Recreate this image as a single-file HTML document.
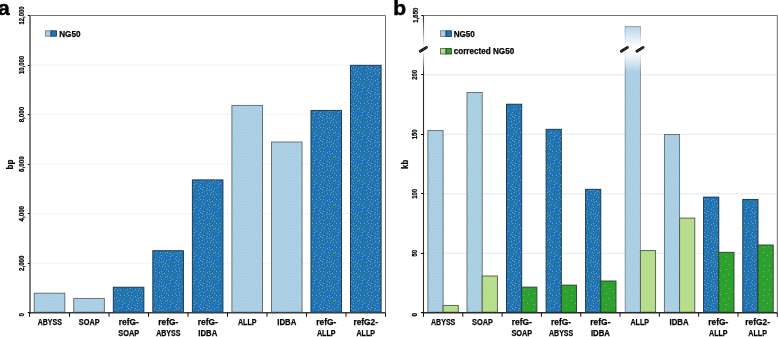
<!DOCTYPE html>
<html><head><meta charset="utf-8"><title>NG50 chart</title>
<style>html,body{margin:0;padding:0;background:#fff;}body{width:778px;height:337px;overflow:hidden;font-family:"Liberation Sans",sans-serif;}</style>
</head><body><svg width="778" height="337" viewBox="0 0 778 337" style="display:block;will-change:transform" font-family='"Liberation Sans", sans-serif' fill="#000"><defs><pattern id="pdb" width="24" height="24" patternUnits="userSpaceOnUse"><rect width="24" height="24" fill="#1f74b9"/><rect x="10" y="10" width="1" height="1" fill="#909ca4"/><rect x="8" y="20" width="1" height="1" fill="#909ca4"/><rect x="8" y="16" width="1" height="1" fill="#909ca4"/><rect x="16" y="12" width="1" height="1" fill="#909ca4"/><rect x="0" y="7" width="1" height="1" fill="#909ca4"/><rect x="9" y="13" width="1" height="1" fill="#909ca4"/><rect x="8" y="7" width="1" height="1" fill="#909ca4"/><rect x="17" y="18" width="1" height="1" fill="#909ca4"/><rect x="15" y="17" width="1" height="1" fill="#909ca4"/><rect x="17" y="22" width="1" height="1" fill="#909ca4"/><rect x="15" y="8" width="1" height="1" fill="#909ca4"/><rect x="10" y="0" width="1" height="1" fill="#909ca4"/><rect x="18" y="2" width="1" height="1" fill="#909ca4"/><rect x="7" y="1" width="1" height="1" fill="#909ca4"/><rect x="7" y="5" width="1" height="1" fill="#909ca4"/><rect x="17" y="7" width="1" height="1" fill="#909ca4"/><rect x="15" y="20" width="1" height="1" fill="#909ca4"/><rect x="21" y="2" width="1" height="1" fill="#909ca4"/><rect x="0" y="2" width="1" height="1" fill="#909ca4"/><rect x="11" y="7" width="1" height="1" fill="#909ca4"/><rect x="10" y="21" width="1" height="1" fill="#909ca4"/><rect x="19" y="21" width="1" height="1" fill="#909ca4"/><rect x="17" y="15" width="1" height="1" fill="#909ca4"/><rect x="20" y="9" width="1" height="1" fill="#909ca4"/><rect x="11" y="19" width="1" height="1" fill="#909ca4"/><rect x="12" y="12" width="1" height="1" fill="#909ca4"/><rect x="14" y="22" width="1" height="1" fill="#909ca4"/><rect x="2" y="13" width="1" height="1" fill="#909ca4"/><rect x="21" y="23" width="1" height="1" fill="#909ca4"/><rect x="19" y="0" width="1" height="1" fill="#909ca4"/><rect x="1" y="19" width="1" height="1" fill="#909ca4"/><rect x="22" y="5" width="1" height="1" fill="#909ca4"/><rect x="22" y="20" width="1" height="1" fill="#909ca4"/><rect x="4" y="15" width="1" height="1" fill="#909ca4"/><rect x="7" y="18" width="1" height="1" fill="#909ca4"/><rect x="11" y="4" width="1" height="1" fill="#909ca4"/><rect x="15" y="1" width="1" height="1" fill="#909ca4"/><rect x="4" y="7" width="1" height="1" fill="#909ca4"/><rect x="6" y="22" width="1" height="1" fill="#909ca4"/><rect x="23" y="12" width="1" height="1" fill="#909ca4"/><rect x="21" y="13" width="1" height="1" fill="#909ca4"/><rect x="18" y="10" width="1" height="1" fill="#909ca4"/><rect x="2" y="16" width="1" height="1" fill="#909ca4"/><rect x="11" y="14" width="1" height="1" fill="#35a135"/><rect x="22" y="10" width="1" height="1" fill="#35a135"/><rect x="1" y="22" width="1" height="1" fill="#35a135"/><rect x="9" y="3" width="1" height="1" fill="#35a135"/><rect x="4" y="11" width="1" height="1" fill="#35a135"/><rect x="5" y="2" width="1" height="1" fill="#35a135"/><rect x="12" y="23" width="1" height="1" fill="#35a135"/><rect x="13" y="3" width="1" height="1" fill="#35a135"/><rect x="3" y="1" width="1" height="1" fill="#35a135"/><rect x="13" y="16" width="1" height="1" fill="#35a135"/><rect x="18" y="13" width="1" height="1" fill="#35a135"/><rect x="20" y="15" width="1" height="1" fill="#35a135"/><rect x="13" y="9" width="1" height="1" fill="#35a135"/><rect x="1" y="9" width="1" height="1" fill="#35a135"/><rect x="23" y="0" width="1" height="1" fill="#35a135"/><rect x="20" y="18" width="1" height="1" fill="#35a135"/><rect x="6" y="13" width="1" height="1" fill="#35a135"/><rect x="17" y="4" width="1" height="1" fill="#35a135"/><rect x="23" y="15" width="1" height="1" fill="#35a135"/><rect x="6" y="8" width="1" height="1" fill="#35a135"/><rect x="20" y="4" width="1" height="1" fill="#35a135"/></pattern><pattern id="plb" width="24" height="24" patternUnits="userSpaceOnUse"><rect width="24" height="24" fill="#aacfe5"/><rect x="19" y="8" width="1" height="1" fill="#b9d9eb"/><rect x="23" y="11" width="1" height="1" fill="#b9d9eb"/><rect x="22" y="23" width="1" height="1" fill="#b9d9eb"/><rect x="20" y="16" width="1" height="1" fill="#b9d9eb"/><rect x="0" y="14" width="1" height="1" fill="#b9d9eb"/><rect x="7" y="20" width="1" height="1" fill="#b9d9eb"/><rect x="1" y="5" width="1" height="1" fill="#b9d9eb"/><rect x="3" y="11" width="1" height="1" fill="#b9d9eb"/><rect x="15" y="7" width="1" height="1" fill="#b9d9eb"/><rect x="12" y="17" width="1" height="1" fill="#b9d9eb"/><rect x="3" y="18" width="1" height="1" fill="#b9d9eb"/><rect x="7" y="0" width="1" height="1" fill="#b9d9eb"/><rect x="5" y="2" width="1" height="1" fill="#b9d9eb"/><rect x="6" y="6" width="1" height="1" fill="#b9d9eb"/><rect x="9" y="10" width="1" height="1" fill="#b9d9eb"/><rect x="6" y="17" width="1" height="1" fill="#b9d9eb"/><rect x="21" y="20" width="1" height="1" fill="#b9d9eb"/><rect x="22" y="6" width="1" height="1" fill="#b9d9eb"/><rect x="12" y="9" width="1" height="1" fill="#b9d9eb"/><rect x="13" y="5" width="1" height="1" fill="#b9d9eb"/><rect x="4" y="8" width="1" height="1" fill="#b9d9eb"/><rect x="18" y="0" width="1" height="1" fill="#b9d9eb"/><rect x="15" y="22" width="1" height="1" fill="#b9d9eb"/><rect x="10" y="5" width="1" height="1" fill="#b9d9eb"/><rect x="15" y="15" width="1" height="1" fill="#b9d9eb"/><rect x="1" y="8" width="1" height="1" fill="#b9d9eb"/><rect x="11" y="12" width="1" height="1" fill="#b9d9eb"/><rect x="0" y="17" width="1" height="1" fill="#b9d9eb"/><rect x="1" y="22" width="1" height="1" fill="#b9d9eb"/><rect x="7" y="14" width="1" height="1" fill="#b9d9eb"/><rect x="13" y="2" width="1" height="1" fill="#b9d9eb"/><rect x="6" y="10" width="1" height="1" fill="#b9d9eb"/><rect x="16" y="19" width="1" height="1" fill="#b9d9eb"/><rect x="4" y="23" width="1" height="1" fill="#b9d9eb"/><rect x="17" y="12" width="1" height="1" fill="#b9d9eb"/><rect x="18" y="4" width="1" height="1" fill="#b9d9eb"/><rect x="20" y="13" width="1" height="1" fill="#b9d9eb"/><rect x="4" y="14" width="1" height="1" fill="#b9d9eb"/><rect x="11" y="22" width="1" height="1" fill="#b9d9eb"/><rect x="18" y="21" width="1" height="1" fill="#b9d9eb"/></pattern><pattern id="pdg" width="24" height="24" patternUnits="userSpaceOnUse"><rect width="24" height="24" fill="#2ca12b"/><rect x="14" y="17" width="1" height="1" fill="#969cc2"/><rect x="6" y="5" width="1" height="1" fill="#969cc2"/><rect x="20" y="19" width="1" height="1" fill="#969cc2"/><rect x="14" y="9" width="1" height="1" fill="#969cc2"/><rect x="20" y="1" width="1" height="1" fill="#969cc2"/><rect x="19" y="12" width="1" height="1" fill="#969cc2"/><rect x="1" y="1" width="1" height="1" fill="#969cc2"/><rect x="6" y="16" width="1" height="1" fill="#969cc2"/><rect x="8" y="10" width="1" height="1" fill="#969cc2"/><rect x="9" y="0" width="1" height="1" fill="#969cc2"/><rect x="3" y="12" width="1" height="1" fill="#969cc2"/><rect x="0" y="6" width="1" height="1" fill="#969cc2"/><rect x="13" y="3" width="1" height="1" fill="#969cc2"/><rect x="5" y="21" width="1" height="1" fill="#969cc2"/><rect x="19" y="7" width="1" height="1" fill="#969cc2"/><rect x="23" y="15" width="1" height="1" fill="#969cc2"/></pattern><linearGradient id="fog" x1="0" y1="26" x2="0" y2="72" gradientUnits="userSpaceOnUse"><stop offset="0" stop-color="#fff" stop-opacity="0.1"/><stop offset="0.45" stop-color="#fff" stop-opacity="1"/><stop offset="0.6" stop-color="#fff" stop-opacity="0.95"/><stop offset="1" stop-color="#fff" stop-opacity="0"/></linearGradient><linearGradient id="fogax" x1="0" y1="16" x2="0" y2="74" gradientUnits="userSpaceOnUse"><stop offset="0" stop-color="#fff" stop-opacity="0"/><stop offset="0.5" stop-color="#fff" stop-opacity="0.92"/><stop offset="0.62" stop-color="#fff" stop-opacity="0.92"/><stop offset="1" stop-color="#fff" stop-opacity="0"/></linearGradient></defs><line x1="31" y1="263.25" x2="385.5" y2="263.25" stroke="#e9e9e9" stroke-width="1" stroke-dasharray="1 1"/><line x1="31" y1="213.70" x2="385.5" y2="213.70" stroke="#e9e9e9" stroke-width="1" stroke-dasharray="1 1"/><line x1="31" y1="164.15" x2="385.5" y2="164.15" stroke="#e9e9e9" stroke-width="1" stroke-dasharray="1 1"/><line x1="31" y1="114.60" x2="385.5" y2="114.60" stroke="#e9e9e9" stroke-width="1" stroke-dasharray="1 1"/><line x1="31" y1="65.05" x2="385.5" y2="65.05" stroke="#e9e9e9" stroke-width="1" stroke-dasharray="1 1"/><rect x="34.20" y="293.20" width="30.60" height="19.00" fill="url(#plb)" stroke="#5a6670" stroke-width="0.9"/><rect x="73.74" y="298.40" width="30.60" height="13.80" fill="url(#plb)" stroke="#5a6670" stroke-width="0.9"/><rect x="113.28" y="287.20" width="30.60" height="25.00" fill="url(#pdb)" stroke="#142f4a" stroke-width="0.9"/><rect x="152.82" y="250.70" width="30.60" height="61.50" fill="url(#pdb)" stroke="#142f4a" stroke-width="0.9"/><rect x="192.36" y="179.90" width="30.60" height="132.30" fill="url(#pdb)" stroke="#142f4a" stroke-width="0.9"/><rect x="231.90" y="105.40" width="30.60" height="206.80" fill="url(#plb)" stroke="#5a6670" stroke-width="0.9"/><rect x="271.44" y="142.00" width="30.60" height="170.20" fill="url(#plb)" stroke="#5a6670" stroke-width="0.9"/><rect x="310.98" y="110.40" width="30.60" height="201.80" fill="url(#pdb)" stroke="#142f4a" stroke-width="0.9"/><rect x="350.52" y="65.30" width="30.60" height="246.90" fill="url(#pdb)" stroke="#142f4a" stroke-width="0.9"/><line x1="28" y1="15.5" x2="385.5" y2="15.5" stroke="#6e6e6e" stroke-width="1"/><line x1="385.5" y1="15.5" x2="385.5" y2="312.8" stroke="#6e6e6e" stroke-width="1"/><line x1="30.0" y1="15.0" x2="30.0" y2="313.8" stroke="#7c7c7c" stroke-width="2"/><line x1="29.0" y1="312.8" x2="385.5" y2="312.8" stroke="#3c3c3c" stroke-width="1.5"/><line x1="29.50" y1="312.8" x2="29.50" y2="316.8" stroke="#111" stroke-width="1"/><line x1="69.50" y1="312.8" x2="69.50" y2="316.8" stroke="#111" stroke-width="1"/><line x1="109.00" y1="312.8" x2="109.00" y2="316.8" stroke="#111" stroke-width="1"/><line x1="148.50" y1="312.8" x2="148.50" y2="316.8" stroke="#111" stroke-width="1"/><line x1="188.00" y1="312.8" x2="188.00" y2="316.8" stroke="#111" stroke-width="1"/><line x1="227.50" y1="312.8" x2="227.50" y2="316.8" stroke="#111" stroke-width="1"/><line x1="267.00" y1="312.8" x2="267.00" y2="316.8" stroke="#111" stroke-width="1"/><line x1="306.50" y1="312.8" x2="306.50" y2="316.8" stroke="#111" stroke-width="1"/><line x1="346.00" y1="312.8" x2="346.00" y2="316.8" stroke="#111" stroke-width="1"/><line x1="385.50" y1="312.8" x2="385.50" y2="316.8" stroke="#111" stroke-width="1"/><line x1="27.8" y1="312.50" x2="29.5" y2="312.50" stroke="#000" stroke-width="1"/><line x1="27.8" y1="263.50" x2="29.5" y2="263.50" stroke="#000" stroke-width="1"/><line x1="27.8" y1="213.50" x2="29.5" y2="213.50" stroke="#000" stroke-width="1"/><line x1="27.8" y1="164.50" x2="29.5" y2="164.50" stroke="#000" stroke-width="1"/><line x1="27.8" y1="114.50" x2="29.5" y2="114.50" stroke="#000" stroke-width="1"/><line x1="27.8" y1="65.50" x2="29.5" y2="65.50" stroke="#000" stroke-width="1"/><line x1="27.8" y1="15.50" x2="29.5" y2="15.50" stroke="#000" stroke-width="1"/><text transform="translate(24.10,314.80) rotate(-90)" x="0" y="0" font-size="6.6" font-weight="bold" text-anchor="middle" textLength="3.4" lengthAdjust="spacingAndGlyphs" stroke="#000" stroke-width="0.25">0</text><text transform="translate(24.10,263.25) rotate(-90)" x="0" y="0" font-size="6.6" font-weight="bold" text-anchor="middle" textLength="15.5" lengthAdjust="spacingAndGlyphs" stroke="#000" stroke-width="0.25">2,000</text><text transform="translate(24.10,213.70) rotate(-90)" x="0" y="0" font-size="6.6" font-weight="bold" text-anchor="middle" textLength="15.5" lengthAdjust="spacingAndGlyphs" stroke="#000" stroke-width="0.25">4,000</text><text transform="translate(24.10,164.15) rotate(-90)" x="0" y="0" font-size="6.6" font-weight="bold" text-anchor="middle" textLength="15.5" lengthAdjust="spacingAndGlyphs" stroke="#000" stroke-width="0.25">6,000</text><text transform="translate(24.10,114.60) rotate(-90)" x="0" y="0" font-size="6.6" font-weight="bold" text-anchor="middle" textLength="15.5" lengthAdjust="spacingAndGlyphs" stroke="#000" stroke-width="0.25">8,000</text><text transform="translate(24.10,65.05) rotate(-90)" x="0" y="0" font-size="6.6" font-weight="bold" text-anchor="middle" textLength="18.0" lengthAdjust="spacingAndGlyphs" stroke="#000" stroke-width="0.25">10,000</text><text transform="translate(24.10,15.50) rotate(-90)" x="0" y="0" font-size="6.6" font-weight="bold" text-anchor="middle" textLength="18.0" lengthAdjust="spacingAndGlyphs" stroke="#000" stroke-width="0.25">12,000</text><text transform="translate(13.40,164.50) rotate(-90)" x="0" y="0" font-size="9.2" font-weight="bold" text-anchor="middle" textLength="9.8" lengthAdjust="spacingAndGlyphs" stroke="#000" stroke-width="0.2">bp</text><rect x="45.5" y="30.8" width="5.5" height="5.4" fill="#aacfe5" stroke="#6d7880" stroke-width="0.8"/><rect x="51" y="30.8" width="5.5" height="5.4" fill="#2176b8" stroke="#142f4a" stroke-width="0.8"/><text x="59.20" y="36.60" font-size="8.6" font-weight="bold" text-anchor="start" textLength="21.3" lengthAdjust="spacingAndGlyphs" stroke="#000" stroke-width="0.25">NG50</text><text x="49.75" y="324.80" font-size="8.6" font-weight="bold" text-anchor="middle" textLength="24.2" lengthAdjust="spacingAndGlyphs" stroke="#000" stroke-width="0.25">ABYSS</text><text x="89.25" y="324.80" font-size="8.6" font-weight="bold" text-anchor="middle" textLength="20.8" lengthAdjust="spacingAndGlyphs" stroke="#000" stroke-width="0.25">SOAP</text><text x="128.75" y="324.80" font-size="8.6" font-weight="bold" text-anchor="middle" textLength="20.2" lengthAdjust="spacingAndGlyphs" stroke="#000" stroke-width="0.25">refG-</text><text x="128.75" y="335.90" font-size="8.6" font-weight="bold" text-anchor="middle" textLength="20.8" lengthAdjust="spacingAndGlyphs" stroke="#000" stroke-width="0.25">SOAP</text><text x="168.25" y="324.80" font-size="8.6" font-weight="bold" text-anchor="middle" textLength="20.2" lengthAdjust="spacingAndGlyphs" stroke="#000" stroke-width="0.25">refG-</text><text x="168.25" y="335.90" font-size="8.6" font-weight="bold" text-anchor="middle" textLength="24.2" lengthAdjust="spacingAndGlyphs" stroke="#000" stroke-width="0.25">ABYSS</text><text x="207.75" y="324.80" font-size="8.6" font-weight="bold" text-anchor="middle" textLength="20.2" lengthAdjust="spacingAndGlyphs" stroke="#000" stroke-width="0.25">refG-</text><text x="207.75" y="335.90" font-size="8.6" font-weight="bold" text-anchor="middle" textLength="19.0" lengthAdjust="spacingAndGlyphs" stroke="#000" stroke-width="0.25">IDBA</text><text x="247.25" y="324.80" font-size="8.6" font-weight="bold" text-anchor="middle" textLength="18.6" lengthAdjust="spacingAndGlyphs" stroke="#000" stroke-width="0.25">ALLP</text><text x="286.75" y="324.80" font-size="8.6" font-weight="bold" text-anchor="middle" textLength="19.0" lengthAdjust="spacingAndGlyphs" stroke="#000" stroke-width="0.25">IDBA</text><text x="326.25" y="324.80" font-size="8.6" font-weight="bold" text-anchor="middle" textLength="20.2" lengthAdjust="spacingAndGlyphs" stroke="#000" stroke-width="0.25">refG-</text><text x="326.25" y="335.90" font-size="8.6" font-weight="bold" text-anchor="middle" textLength="18.6" lengthAdjust="spacingAndGlyphs" stroke="#000" stroke-width="0.25">ALLP</text><text x="365.75" y="324.80" font-size="8.6" font-weight="bold" text-anchor="middle" textLength="24.6" lengthAdjust="spacingAndGlyphs" stroke="#000" stroke-width="0.25">refG2-</text><text x="365.75" y="335.90" font-size="8.6" font-weight="bold" text-anchor="middle" textLength="18.6" lengthAdjust="spacingAndGlyphs" stroke="#000" stroke-width="0.25">ALLP</text><line x1="424.0" y1="253.30" x2="777.3" y2="253.30" stroke="#e8e8ee" stroke-width="1"/><line x1="424.0" y1="193.80" x2="777.3" y2="193.80" stroke="#e8e8ee" stroke-width="1"/><line x1="424.0" y1="134.30" x2="777.3" y2="134.30" stroke="#e8e8ee" stroke-width="1"/><line x1="424.0" y1="74.80" x2="777.3" y2="74.80" stroke="#e8e8ee" stroke-width="1"/><rect x="427.90" y="130.60" width="15.20" height="181.60" fill="url(#plb)" stroke="#5a6670" stroke-width="0.9"/><rect x="443.10" y="305.40" width="15.20" height="6.80" fill="#b7de8c" stroke="#4d5a45" stroke-width="0.9"/><rect x="467.00" y="92.40" width="15.20" height="219.80" fill="url(#plb)" stroke="#5a6670" stroke-width="0.9"/><rect x="482.20" y="276.00" width="15.20" height="36.20" fill="#b7de8c" stroke="#4d5a45" stroke-width="0.9"/><rect x="506.50" y="104.20" width="15.20" height="208.00" fill="url(#pdb)" stroke="#142f4a" stroke-width="0.9"/><rect x="521.70" y="287.10" width="15.20" height="25.10" fill="url(#pdg)" stroke="#26402e" stroke-width="0.9"/><rect x="546.10" y="129.30" width="15.20" height="182.90" fill="url(#pdb)" stroke="#142f4a" stroke-width="0.9"/><rect x="561.30" y="285.10" width="15.20" height="27.10" fill="url(#pdg)" stroke="#26402e" stroke-width="0.9"/><rect x="585.60" y="189.30" width="15.20" height="122.90" fill="url(#pdb)" stroke="#142f4a" stroke-width="0.9"/><rect x="600.80" y="281.00" width="15.20" height="31.20" fill="url(#pdg)" stroke="#26402e" stroke-width="0.9"/><rect x="625.20" y="26.6" width="15.20" height="285.60" fill="url(#plb)" stroke="#7d8a94" stroke-width="0.9"/><rect x="624.20" y="26" width="16.80" height="46" fill="url(#fog)"/><rect x="640.40" y="250.60" width="15.20" height="61.60" fill="#b7de8c" stroke="#4d5a45" stroke-width="0.9"/><rect x="664.40" y="134.60" width="15.20" height="177.60" fill="url(#plb)" stroke="#5a6670" stroke-width="0.9"/><rect x="679.60" y="218.10" width="15.20" height="94.10" fill="#b7de8c" stroke="#4d5a45" stroke-width="0.9"/><rect x="703.60" y="197.10" width="15.20" height="115.10" fill="url(#pdb)" stroke="#142f4a" stroke-width="0.9"/><rect x="718.80" y="252.30" width="15.20" height="59.90" fill="url(#pdg)" stroke="#26402e" stroke-width="0.9"/><rect x="742.80" y="199.40" width="15.20" height="112.80" fill="url(#pdb)" stroke="#142f4a" stroke-width="0.9"/><rect x="758.00" y="245.00" width="15.20" height="67.20" fill="url(#pdg)" stroke="#26402e" stroke-width="0.9"/><line x1="421" y1="15.5" x2="777.3" y2="15.5" stroke="#6e6e6e" stroke-width="1"/><line x1="777.3" y1="15.5" x2="777.3" y2="312.8" stroke="#6e6e6e" stroke-width="1"/><line x1="423.5" y1="15.5" x2="423.5" y2="313.8" stroke="#2a2a2a" stroke-width="1.1"/><line x1="422.5" y1="312.8" x2="777.3" y2="312.8" stroke="#2a2a2a" stroke-width="1.4"/><line x1="423.50" y1="312.8" x2="423.50" y2="316.8" stroke="#111" stroke-width="1"/><line x1="462.81" y1="312.8" x2="462.81" y2="316.8" stroke="#111" stroke-width="1"/><line x1="502.12" y1="312.8" x2="502.12" y2="316.8" stroke="#111" stroke-width="1"/><line x1="541.43" y1="312.8" x2="541.43" y2="316.8" stroke="#111" stroke-width="1"/><line x1="580.74" y1="312.8" x2="580.74" y2="316.8" stroke="#111" stroke-width="1"/><line x1="620.06" y1="312.8" x2="620.06" y2="316.8" stroke="#111" stroke-width="1"/><line x1="659.37" y1="312.8" x2="659.37" y2="316.8" stroke="#111" stroke-width="1"/><line x1="698.68" y1="312.8" x2="698.68" y2="316.8" stroke="#111" stroke-width="1"/><line x1="737.99" y1="312.8" x2="737.99" y2="316.8" stroke="#111" stroke-width="1"/><line x1="777.30" y1="312.8" x2="777.30" y2="316.8" stroke="#111" stroke-width="1"/><line x1="421" y1="312.50" x2="423.5" y2="312.50" stroke="#000" stroke-width="1"/><line x1="421" y1="253.50" x2="423.5" y2="253.50" stroke="#000" stroke-width="1"/><line x1="421" y1="193.50" x2="423.5" y2="193.50" stroke="#000" stroke-width="1"/><line x1="421" y1="134.50" x2="423.5" y2="134.50" stroke="#000" stroke-width="1"/><line x1="421" y1="74.50" x2="423.5" y2="74.50" stroke="#000" stroke-width="1"/><line x1="421.5" y1="15.5" x2="423.5" y2="15.5" stroke="#222" stroke-width="1"/><rect x="422" y="16" width="3" height="58" fill="url(#fogax)"/><g transform="translate(423.4,49.3) rotate(-32)"><rect x="-5" y="-1.35" width="10" height="2.7" rx="1.3" fill="#0a0a0a"/><line x1="-3.8" y1="0" x2="3.8" y2="0" stroke="#fff" stroke-width="0.5" stroke-dasharray="0.8 0.9" opacity="0.8"/></g><g transform="translate(624.4,49.3) rotate(-32)"><rect x="-5" y="-1.35" width="10" height="2.7" rx="1.3" fill="#0a0a0a"/><line x1="-3.8" y1="0" x2="3.8" y2="0" stroke="#fff" stroke-width="0.5" stroke-dasharray="0.8 0.9" opacity="0.8"/></g><g transform="translate(640.0,49.3) rotate(-32)"><rect x="-5" y="-1.35" width="10" height="2.7" rx="1.3" fill="#0a0a0a"/><line x1="-3.8" y1="0" x2="3.8" y2="0" stroke="#fff" stroke-width="0.5" stroke-dasharray="0.8 0.9" opacity="0.8"/></g><text transform="translate(417.00,314.80) rotate(-90)" x="0" y="0" font-size="6.6" font-weight="bold" text-anchor="middle" textLength="3.6" lengthAdjust="spacingAndGlyphs" stroke="#000" stroke-width="0.25">0</text><text transform="translate(417.00,253.30) rotate(-90)" x="0" y="0" font-size="6.6" font-weight="bold" text-anchor="middle" textLength="6.6" lengthAdjust="spacingAndGlyphs" stroke="#000" stroke-width="0.25">50</text><text transform="translate(417.00,193.80) rotate(-90)" x="0" y="0" font-size="6.6" font-weight="bold" text-anchor="middle" textLength="9.9" lengthAdjust="spacingAndGlyphs" stroke="#000" stroke-width="0.25">100</text><text transform="translate(417.00,134.30) rotate(-90)" x="0" y="0" font-size="6.6" font-weight="bold" text-anchor="middle" textLength="9.9" lengthAdjust="spacingAndGlyphs" stroke="#000" stroke-width="0.25">150</text><text transform="translate(417.00,74.80) rotate(-90)" x="0" y="0" font-size="6.6" font-weight="bold" text-anchor="middle" textLength="9.9" lengthAdjust="spacingAndGlyphs" stroke="#000" stroke-width="0.25">200</text><text transform="translate(418.20,15.20) rotate(-90)" x="0" y="0" font-size="6.6" font-weight="bold" text-anchor="middle" textLength="15.0" lengthAdjust="spacingAndGlyphs" stroke="#000" stroke-width="0.25">1,650</text><text transform="translate(408.30,164.40) rotate(-90)" x="0" y="0" font-size="9.2" font-weight="bold" text-anchor="middle" textLength="9.2" lengthAdjust="spacingAndGlyphs" stroke="#000" stroke-width="0.2">kb</text><rect x="440.5" y="30.8" width="5.5" height="5.6" fill="#aacfe5" stroke="#6d7880" stroke-width="0.8"/><rect x="446" y="30.8" width="5.5" height="5.6" fill="#2176b8" stroke="#142f4a" stroke-width="0.8"/><text x="453.70" y="36.70" font-size="8.6" font-weight="bold" text-anchor="start" textLength="21.2" lengthAdjust="spacingAndGlyphs" stroke="#000" stroke-width="0.25">NG50</text><rect x="440.5" y="48.6" width="5.5" height="5.4" fill="#b7de8c" stroke="#4d5a45" stroke-width="0.8"/><rect x="446" y="48.6" width="5.5" height="5.4" fill="#2ea12e" stroke="#1d3d1d" stroke-width="0.8"/><text x="453.70" y="54.20" font-size="8.6" font-weight="bold" text-anchor="start" textLength="60.5" lengthAdjust="spacingAndGlyphs" stroke="#000" stroke-width="0.25">corrected NG50</text><text x="443.16" y="324.80" font-size="8.6" font-weight="bold" text-anchor="middle" textLength="24.2" lengthAdjust="spacingAndGlyphs" stroke="#000" stroke-width="0.25">ABYSS</text><text x="482.47" y="324.80" font-size="8.6" font-weight="bold" text-anchor="middle" textLength="20.8" lengthAdjust="spacingAndGlyphs" stroke="#000" stroke-width="0.25">SOAP</text><text x="521.78" y="324.80" font-size="8.6" font-weight="bold" text-anchor="middle" textLength="20.2" lengthAdjust="spacingAndGlyphs" stroke="#000" stroke-width="0.25">refG-</text><text x="521.78" y="335.90" font-size="8.6" font-weight="bold" text-anchor="middle" textLength="20.8" lengthAdjust="spacingAndGlyphs" stroke="#000" stroke-width="0.25">SOAP</text><text x="561.09" y="324.80" font-size="8.6" font-weight="bold" text-anchor="middle" textLength="20.2" lengthAdjust="spacingAndGlyphs" stroke="#000" stroke-width="0.25">refG-</text><text x="561.09" y="335.90" font-size="8.6" font-weight="bold" text-anchor="middle" textLength="24.2" lengthAdjust="spacingAndGlyphs" stroke="#000" stroke-width="0.25">ABYSS</text><text x="600.40" y="324.80" font-size="8.6" font-weight="bold" text-anchor="middle" textLength="20.2" lengthAdjust="spacingAndGlyphs" stroke="#000" stroke-width="0.25">refG-</text><text x="600.40" y="335.90" font-size="8.6" font-weight="bold" text-anchor="middle" textLength="19.0" lengthAdjust="spacingAndGlyphs" stroke="#000" stroke-width="0.25">IDBA</text><text x="639.71" y="324.80" font-size="8.6" font-weight="bold" text-anchor="middle" textLength="18.6" lengthAdjust="spacingAndGlyphs" stroke="#000" stroke-width="0.25">ALLP</text><text x="679.02" y="324.80" font-size="8.6" font-weight="bold" text-anchor="middle" textLength="19.0" lengthAdjust="spacingAndGlyphs" stroke="#000" stroke-width="0.25">IDBA</text><text x="718.33" y="324.80" font-size="8.6" font-weight="bold" text-anchor="middle" textLength="20.2" lengthAdjust="spacingAndGlyphs" stroke="#000" stroke-width="0.25">refG-</text><text x="718.33" y="335.90" font-size="8.6" font-weight="bold" text-anchor="middle" textLength="18.6" lengthAdjust="spacingAndGlyphs" stroke="#000" stroke-width="0.25">ALLP</text><text x="757.64" y="324.80" font-size="8.6" font-weight="bold" text-anchor="middle" textLength="24.6" lengthAdjust="spacingAndGlyphs" stroke="#000" stroke-width="0.25">refG2-</text><text x="757.64" y="335.90" font-size="8.6" font-weight="bold" text-anchor="middle" textLength="18.6" lengthAdjust="spacingAndGlyphs" stroke="#000" stroke-width="0.25">ALLP</text><text x="-2.00" y="14.60" font-size="21" font-weight="bold" text-anchor="start" stroke="#000" stroke-width="0.5">a</text><text x="393.20" y="14.60" font-size="21" font-weight="bold" text-anchor="start" stroke="#000" stroke-width="0.5">b</text></svg></body></html>
